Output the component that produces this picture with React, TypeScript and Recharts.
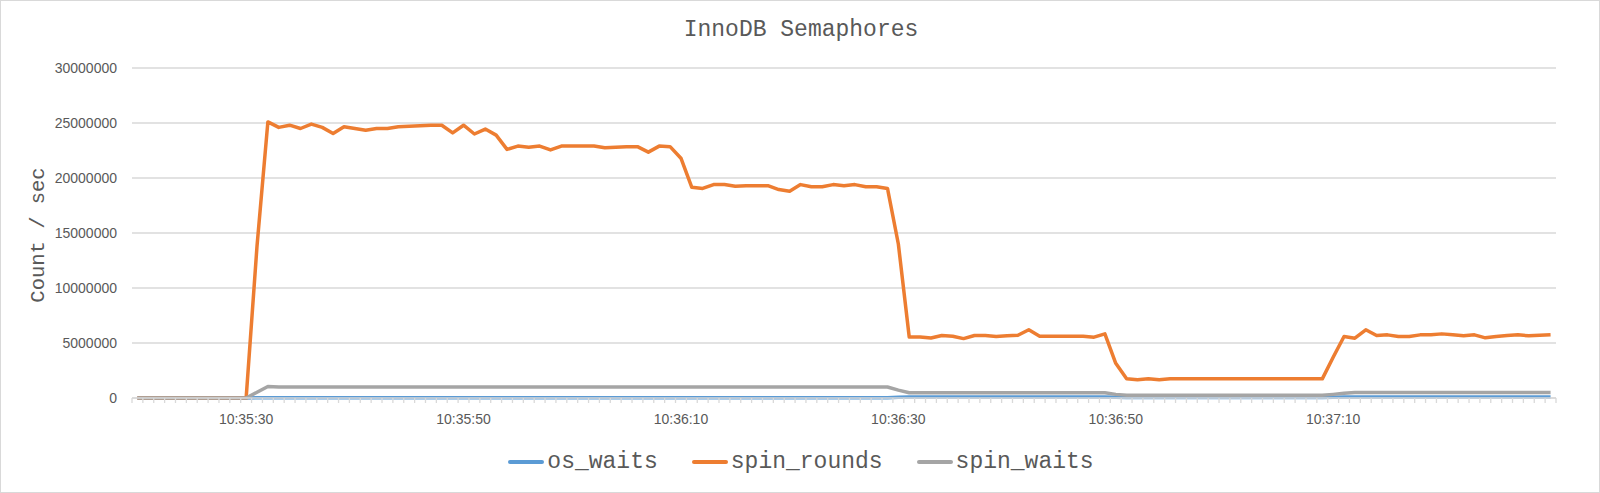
import { CartesianGrid, Line, LineChart, XAxis, YAxis } from 'recharts'

// one sample per second, 10:35:20 .. 10:37:30
const START_SECONDS = 10 * 3600 + 35 * 60 + 20
const POINT_COUNT = 131

const pad = (n: number) => String(n).padStart(2, '0')
const times: string[] = []
for (let i = 0; i < POINT_COUNT; i++) {
  const s = START_SECONDS + i
  times.push(`${Math.floor(s / 3600)}:${pad(Math.floor((s % 3600) / 60))}:${pad(s % 60)}`)
}

const labelledTimes = ['10:35:30', '10:35:50', '10:36:10', '10:36:30', '10:36:50', '10:37:10']

const yTicks = [0, 5000000, 10000000, 15000000, 20000000, 25000000, 30000000]

const osWaits = [
  0, 0, 0, 0, 0, 0, 0, 0, 0, 0, 0,
  30000, 30000, 30000, 30000, 30000, 30000, 30000, 30000, 30000, 30000,
  30000, 30000, 30000, 30000, 30000, 30000, 30000, 30000, 30000, 30000,
  30000, 30000, 30000, 30000, 30000, 30000, 30000, 30000, 30000, 30000,
  30000, 30000, 30000, 30000, 30000, 30000, 30000, 30000, 30000, 30000,
  30000, 30000, 30000, 30000, 30000, 30000, 30000, 30000, 30000, 30000,
  30000, 30000, 30000, 30000, 30000, 30000, 30000, 30000, 30000,
  60000,
  90000, 90000, 90000, 90000, 90000, 90000, 90000, 90000, 90000, 90000,
  90000, 90000, 90000, 90000, 90000, 90000, 90000, 90000, 90000,
  60000,
  40000, 40000, 40000, 40000, 40000, 40000, 40000, 40000, 40000, 40000,
  40000, 40000, 40000, 40000, 40000, 40000, 40000, 40000, 40000,
  60000,
  80000, 80000, 80000, 80000, 80000, 80000, 80000, 80000, 80000, 80000,
  80000, 80000, 80000, 80000, 80000, 80000, 80000, 80000, 80000, 80000,
]

const spinRounds = [
  0, 0, 0, 0, 0, 0, 0, 0, 0, 0, 0,
  13800000, 25100000, 24600000, 24800000, 24500000, 24900000, 24600000, 24050000, 24650000, 24500000,
  24350000, 24500000, 24500000, 24650000, 24700000, 24750000, 24800000, 24800000, 24100000, 24800000,
  24000000, 24450000, 23900000, 22600000, 22900000, 22800000, 22900000, 22550000, 22900000, 22900000,
  22900000, 22900000, 22750000, 22800000, 22850000, 22850000, 22350000, 22900000, 22850000, 21800000,
  19150000, 19050000, 19400000, 19400000, 19250000, 19300000, 19300000, 19300000, 18950000, 18800000,
  19400000, 19200000, 19200000, 19400000, 19300000, 19400000, 19200000, 19200000, 19050000, 14000000,
  5550000, 5550000, 5450000, 5680000, 5620000, 5400000, 5680000, 5680000, 5600000, 5650000,
  5700000, 6200000, 5620000, 5620000, 5620000, 5620000, 5620000, 5530000, 5830000, 3150000,
  1740000, 1660000, 1740000, 1660000, 1740000, 1740000, 1740000, 1740000, 1740000, 1740000,
  1740000, 1740000, 1740000, 1740000, 1740000, 1740000, 1740000, 1740000, 1740000, 3700000,
  5590000, 5440000, 6200000, 5680000, 5740000, 5590000, 5590000, 5740000, 5740000, 5830000,
  5740000, 5650000, 5740000, 5470000, 5590000, 5680000, 5740000, 5650000, 5700000, 5750000,
]

const spinWaits = [
  0, 0, 0, 0, 0, 0, 0, 0, 0, 0, 0,
  520000, 1040000,
  1000000, 1000000, 1000000, 1000000, 1000000, 1000000, 1000000, 1000000, 1000000, 1000000,
  1000000, 1000000, 1000000, 1000000, 1000000, 1000000, 1000000, 1000000, 1000000, 1000000,
  1000000, 1000000, 1000000, 1000000, 1000000, 1000000, 1000000, 1000000, 1000000, 1000000,
  1000000, 1000000, 1000000, 1000000, 1000000, 1000000, 1000000, 1000000, 1000000, 1000000,
  1000000, 1000000, 1000000, 1000000, 1000000, 1000000, 1000000, 1000000, 1000000, 1000000,
  1000000, 1000000, 1000000, 1000000, 1000000, 1000000, 1000000,
  720000,
  480000, 480000, 480000, 480000, 480000, 480000, 480000, 480000, 480000, 480000,
  480000, 480000, 480000, 480000, 480000, 480000, 480000, 480000, 480000,
  330000,
  250000, 250000, 250000, 250000, 250000, 250000, 250000, 250000, 250000, 250000,
  250000, 250000, 250000, 250000, 250000, 250000, 250000, 250000, 250000,
  330000, 430000,
  500000, 500000, 500000, 500000, 500000, 500000, 500000, 500000, 500000, 500000,
  500000, 500000, 500000, 500000, 500000, 500000, 500000, 500000, 500000,
]

const SERIES = [
  { key: 'os_waits', color: '#5B9BD5' },
  { key: 'spin_rounds', color: '#ED7D31' },
  { key: 'spin_waits', color: '#A5A5A5' },
]

const data = times.map((time, i) => ({
  time,
  os_waits: osWaits[i],
  spin_rounds: spinRounds[i],
  spin_waits: spinWaits[i],
}))

const WIDTH = 1600
const HEIGHT = 493
const MARGIN = { top: 68, right: 44, bottom: 65, left: 0 }
const Y_AXIS_WIDTH = 132
const BAND = (WIDTH - MARGIN.left - MARGIN.right - Y_AXIS_WIDTH) / POINT_COUNT

const MONO = '"Liberation Mono", "DejaVu Sans Mono", monospace'
const SANS = '"Liberation Sans", Arial, sans-serif'
const TEXT = '#595959'
const GRID = '#D9D9D9'

function TimeTick(props: any) {
  const { x, y, payload } = props
  const index = payload?.index ?? props.index
  const half = BAND / 2
  const showLabel = labelledTimes.includes(payload?.value)
  return (
    <g>
      <line x1={x - half} x2={x - half} y1={y} y2={y + 5} stroke={GRID} strokeWidth={1.3} />
      {index === POINT_COUNT - 1 && (
        <line x1={x + half} x2={x + half} y1={y} y2={y + 5} stroke={GRID} strokeWidth={1.3} />
      )}
      {showLabel && (
        <text x={x} y={y + 26} textAnchor="middle" fill={TEXT} fontSize={14} fontFamily={SANS}>
          {payload.value}
        </text>
      )}
    </g>
  )
}

export default function App() {
  return (
    <div
      style={{
        position: 'absolute',
        left: 0,
        top: 0,
        width: WIDTH,
        height: HEIGHT,
        background: '#fff',
        border: `1px solid ${GRID}`,
        boxSizing: 'border-box',
      }}
    >
      <div
        style={{
          position: 'absolute',
          left: 0,
          width: WIDTH,
          top: 16,
          textAlign: 'center',
          fontFamily: MONO,
          fontSize: 23,
          color: TEXT,
        }}
      >
        InnoDB Semaphores
      </div>

      <div
        style={{
          position: 'absolute',
          left: 37,
          top: 234,
          transform: 'translate(-50%, -50%) rotate(-90deg)',
          whiteSpace: 'nowrap',
          fontFamily: MONO,
          fontSize: 20.5,
          color: TEXT,
        }}
      >
        Count / sec
      </div>

      <div style={{ position: 'absolute', left: -1, top: -1 }}>
        <LineChart width={WIDTH} height={HEIGHT} data={data} margin={MARGIN}>
          <CartesianGrid vertical={false} stroke={GRID} strokeWidth={1.3} />
          <XAxis
            dataKey="time"
            scale="band"
            interval={0}
            height={30}
            tickSize={0}
            tickMargin={0}
            tickLine={false}
            axisLine={{ stroke: GRID, strokeWidth: 1.3 }}
            tick={<TimeTick />}
          />
          <YAxis
            width={Y_AXIS_WIDTH}
            domain={[0, 30000000]}
            ticks={yTicks}
            interval={0}
            axisLine={false}
            tickLine={false}
            tickMargin={9}
            tick={{ fill: TEXT, fontSize: 14, fontFamily: SANS }}
          />
          {SERIES.map((s) => (
            <Line
              key={s.key}
              type="linear"
              dataKey={s.key}
              stroke={s.color}
              strokeWidth={3.5}
              strokeLinejoin="round"
              dot={false}
              activeDot={false}
              isAnimationActive={false}
            />
          ))}
        </LineChart>
      </div>

      <div
        style={{
          position: 'absolute',
          left: 0,
          width: WIDTH,
          top: 448,
          display: 'flex',
          justifyContent: 'center',
          alignItems: 'center',
          gap: 34,
          fontFamily: MONO,
          fontSize: 23,
          color: TEXT,
        }}
      >
        {SERIES.map((s) => (
          <span key={s.key} style={{ display: 'inline-flex', alignItems: 'center', gap: 3 }}>
            <span style={{ display: 'inline-block', width: 36, height: 3.5, background: s.color, borderRadius: 2 }} />
            {s.key}
          </span>
        ))}
      </div>
    </div>
  )
}
